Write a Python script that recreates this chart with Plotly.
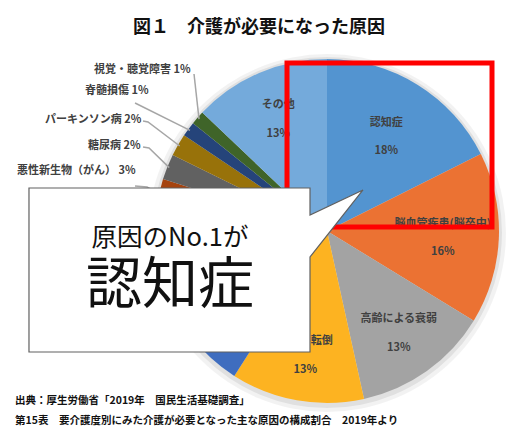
import math
import plotly.graph_objects as go

# page has an 8px body margin, so the figure is a bit smaller than the window
W, H = 513, 429
OFF = 8

# 介護が必要になった原因（2019年 国民生活基礎調査）, 12時から時計回り
causes = ["認知症", "脳血管疾患(脳卒中)", "高齢による衰弱", "骨折・転倒", "関節疾患",
          "心疾患(心臓病)", "呼吸器疾患", "悪性新生物（がん）", "糖尿病", "パーキンソン病",
          "脊髄損傷", "視覚・聴覚障害", "その他"]
shares = [17.6, 16.1, 12.8, 12.5, 10.8, 4.5, 2.6, 2.9, 2.4, 2.1, 1.4, 1.3, 12.9]
pct_labels = ["18%", "16%", "13%", "13%", "11%", "5%", "3%", "3%", "2%", "2%", "1%", "1%", "13%"]
colors = ["#5394D0", "#EB7233", "#A3A3A3", "#FDB321", "#3F6DBF", "#70AD47", "#255E91",
          "#A5430F", "#616161", "#98720A", "#25447A", "#3F6429", "#74AADB"]

# labels hidden under the bubble in the original
hidden = ["関節疾患", "心疾患(心臓病)", "呼吸器疾患"]

# slices labelled outside with leader lines (name, label right end x, label y, line start, elbow)
outside = {
    "視覚・聴覚障害": (193, 68, (194, 74), None),
    "脊髄損傷": (151, 89, (135, 103), None),
    "パーキンソン病": (144, 118, (143, 121), (148, 122)),
    "糖尿病": (143, 144, (143, 147), (149, 148)),
    "悪性新生物（がん）": (138, 169, (135, 186), (147, 187)),
}

FONT = "Noto Sans CJK JP"


def px(x):
    return (x - OFF) / W


def py(y):
    return 1 - (y - OFF) / H


# pie geometry in reference pixels
cx, cy, R = 327, 231, 172

texts, positions = [], []
for c, p, s in zip(causes, pct_labels, shares):
    if c in outside or c in hidden:
        texts.append("")
        positions.append("none")
    else:
        texts.append(f"{c}<br><br>{p}")
        positions.append("inside")

fig = go.Figure(go.Pie(
    labels=causes,
    values=shares,
    sort=False,
    direction="clockwise",
    rotation=0,
    marker=dict(colors=colors, line=dict(width=0)),
    text=texts,
    textinfo="text",
    textposition=positions,
    insidetextorientation="horizontal",
    insidetextfont=dict(family=FONT, size=11, color="#404040", weight="bold"),
    showlegend=False,
    hoverinfo="label+percent",
    domain=dict(x=[px(cx - R), px(cx + R)], y=[py(cy + R), py(cy - R)]),
))

shapes = [
    # soft shadow round the pie
    dict(type="circle", xref="paper", yref="paper", layer="below",
         x0=px(cx - R - 7), x1=px(cx + R + 7), y0=py(cy + R + 9), y1=py(cy - R - 5),
         fillcolor="rgba(0,0,0,0.05)", line=dict(width=0)),
    dict(type="circle", xref="paper", yref="paper", layer="below",
         x0=px(cx - R - 3), x1=px(cx + R + 3), y0=py(cy + R + 5), y1=py(cy - R - 2),
         fillcolor="rgba(0,0,0,0.07)", line=dict(width=0)),
]

annotations = []

# leader lines and labels for the thin slices
total = sum(shares)
cum = 0.0
for c, p, s in zip(causes, pct_labels, shares):
    mid = (cum + s / 2) / total * 2 * math.pi
    cum += s
    if c not in outside:
        continue
    lx, ly, start, elbow = outside[c]
    ex = cx + (R - 2) * math.sin(mid)
    ey = cy - (R - 2) * math.cos(mid)
    pts = [start] + ([elbow] if elbow else []) + [(ex, ey)]
    path = "M " + " L ".join(f"{px(x):.4f},{py(y):.4f}" for x, y in pts)
    shapes.append(dict(type="path", path=path, xref="paper", yref="paper", layer="above",
                       line=dict(color="#A6A6A6", width=1.5)))
    annotations.append(dict(text=f"{c} {p}", x=px(lx), y=py(ly), xref="paper", yref="paper",
                            xanchor="right", yanchor="middle", showarrow=False,
                            font=dict(family=FONT, size=11, color="#404040", weight="bold")))

# red highlight box
shapes.append(dict(type="rect", xref="paper", yref="paper", layer="above",
                   x0=px(287), x1=px(492), y0=py(227), y1=py(63),
                   line=dict(color="#FF0000", width=5), fillcolor="rgba(0,0,0,0)"))

# speech bubble
bubble = [(29, 188), (310, 188), (310, 215), (363, 190), (310, 257), (310, 352), (29, 352)]
path = "M " + " L ".join(f"{px(x):.4f},{py(y):.4f}" for x, y in bubble) + " Z"
shapes.append(dict(type="path", path=path, xref="paper", yref="paper", layer="above",
                   fillcolor="white", line=dict(color="#606060", width=1.2)))

bubble_text = ("<span style='font-size:25.5px'>原因のNo.1が</span><br>"
               "<span style='font-size:56px'>認知症</span>")

annotations += [
    dict(text="図１　介護が必要になった原因", x=px(259), y=py(25), xref="paper", yref="paper",
         xanchor="center", yanchor="middle", showarrow=False,
         font=dict(family=FONT, size=18, color="#111111", weight="bold")),
    dict(text=bubble_text, x=px(170), y=py(267), xref="paper", yref="paper",
         xanchor="center", yanchor="middle", align="center", showarrow=False,
         font=dict(family=FONT, size=44, color="#111111")),
    dict(text="出典：厚生労働省「2019年　国民生活基礎調査」", x=px(13), y=py(399),
         xref="paper", yref="paper", xanchor="left", yanchor="middle", showarrow=False,
         font=dict(family=FONT, size=10.5, color="#111111", weight="bold")),
    dict(text="第15表　要介護度別にみた介護が必要となった主な原因の構成割合　2019年より",
         x=px(13), y=py(419), xref="paper", yref="paper", xanchor="left", yanchor="middle",
         showarrow=False, font=dict(family=FONT, size=10.5, color="#111111", weight="bold")),
]

fig.update_layout(
    width=W, height=H,
    margin=dict(l=0, r=0, t=0, b=0),
    paper_bgcolor="white",
    shapes=shapes,
    annotations=annotations,
)

fig.write_html("out.html")
